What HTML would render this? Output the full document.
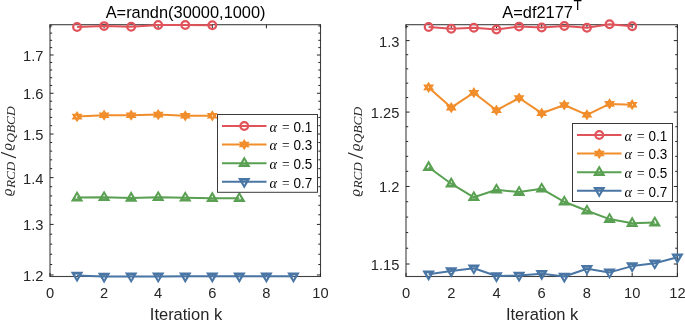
<!DOCTYPE html>
<html><head><meta charset="utf-8"><title>plot</title><style>
html,body{margin:0;padding:0;background:#fff;}
body{width:685px;height:320px;overflow:hidden;}
svg{display:block;}
text{font-family:"Liberation Sans",Arial,sans-serif;fill:#000;}
.tl{font-size:14.7px;fill:#262626;}
.tt{font-size:16.4px;fill:#000;}
.sup{font-size:13.6px;fill:#000;}
.xl{font-size:16.5px;fill:#262626;}
.lg{font-size:13.5px;fill:#000;}
.eq{font-family:"Liberation Serif",serif;}
.al{font-family:"Liberation Serif",serif;font-style:italic;font-size:14.2px;}
.yr{font-family:"Liberation Serif",serif;font-style:italic;font-size:14.5px;fill:#262626;}
.ys{font-family:"Liberation Serif",serif;font-style:italic;font-size:12.2px;fill:#262626;}
.ysl{font-family:"Liberation Serif",serif;font-size:24px;fill:#262626;}
</style></head><body>
<svg width="685" height="320" viewBox="0 0 685 320">
<rect width="100%" height="100%" fill="#fff"/>
<rect x="50.0" y="24.7" width="270.5" height="251.8" fill="none" stroke="#404040" stroke-width="1.1"/>
<path d="M50.0,274.95h3.6M320.5,274.95h-3.6M50.0,224.41h3.6M320.5,224.41h-3.6M50.0,177.61h3.6M320.5,177.61h-3.6M50.0,134.04h3.6M320.5,134.04h-3.6M50.0,93.28h3.6M320.5,93.28h-3.6M50.0,55h3.6M320.5,55h-3.6M50.0,264.52h2.2M320.5,264.52h-2.2M50.0,254.25h2.2M320.5,254.25h-2.2M50.0,244.14h2.2M320.5,244.14h-2.2M50.0,234.2h2.2M320.5,234.2h-2.2M50.0,214.77h2.2M320.5,214.77h-2.2M50.0,205.27h2.2M320.5,205.27h-2.2M50.0,195.91h2.2M320.5,195.91h-2.2M50.0,186.69h2.2M320.5,186.69h-2.2M50.0,168.65h2.2M320.5,168.65h-2.2M50.0,159.82h2.2M320.5,159.82h-2.2M50.0,151.11h2.2M320.5,151.11h-2.2M50.0,142.52h2.2M320.5,142.52h-2.2M50.0,125.67h2.2M320.5,125.67h-2.2M50.0,117.42h2.2M320.5,117.42h-2.2M50.0,109.27h2.2M320.5,109.27h-2.2M50.0,101.23h2.2M320.5,101.23h-2.2M50.0,85.44h2.2M320.5,85.44h-2.2M50.0,77.69h2.2M320.5,77.69h-2.2M50.0,70.03h2.2M320.5,70.03h-2.2M50.0,62.47h2.2M320.5,62.47h-2.2M50.0,47.61h2.2M320.5,47.61h-2.2M50.0,40.31h2.2M320.5,40.31h-2.2M50.0,33.09h2.2M320.5,33.09h-2.2M50.0,25.96h2.2M320.5,25.96h-2.2M50,276.5v-3.6M50,24.7v3.6M104.1,276.5v-3.6M104.1,24.7v3.6M158.2,276.5v-3.6M158.2,24.7v3.6M212.3,276.5v-3.6M212.3,24.7v3.6M266.4,276.5v-3.6M266.4,24.7v3.6M320.5,276.5v-3.6M320.5,24.7v3.6" stroke="#262626" stroke-width="1" fill="none"/>
<rect x="406.0" y="24.7" width="271.4" height="251.8" fill="none" stroke="#404040" stroke-width="1.1"/>
<path d="M406.0,264h3.6M677.4,264h-3.6M406.0,186.46h3.6M677.4,186.46h-3.6M406.0,112.08h3.6M677.4,112.08h-3.6M406.0,40.62h3.6M677.4,40.62h-3.6M406.0,248.23h2.2M677.4,248.23h-2.2M406.0,232.59h2.2M677.4,232.59h-2.2M406.0,217.08h2.2M677.4,217.08h-2.2M406.0,201.71h2.2M677.4,201.71h-2.2M406.0,171.34h2.2M677.4,171.34h-2.2M406.0,156.34h2.2M677.4,156.34h-2.2M406.0,141.47h2.2M677.4,141.47h-2.2M406.0,126.72h2.2M677.4,126.72h-2.2M406.0,97.56h2.2M677.4,97.56h-2.2M406.0,83.16h2.2M677.4,83.16h-2.2M406.0,68.87h2.2M677.4,68.87h-2.2M406.0,54.69h2.2M677.4,54.69h-2.2M406.0,26.66h2.2M677.4,26.66h-2.2M406,276.5v-3.6M406,24.7v3.6M451.23,276.5v-3.6M451.23,24.7v3.6M496.47,276.5v-3.6M496.47,24.7v3.6M541.7,276.5v-3.6M541.7,24.7v3.6M586.93,276.5v-3.6M586.93,24.7v3.6M632.17,276.5v-3.6M632.17,24.7v3.6M677.4,276.5v-3.6M677.4,24.7v3.6" stroke="#262626" stroke-width="1" fill="none"/>
<path d="M77.05,27 L104.1,26.1 L131.15,26.7 L158.2,24.9 L185.25,24.9 L212.3,25.3" fill="none" stroke="#E0535A" stroke-width="2.0" stroke-linejoin="round"/>
<circle cx="77.05" cy="27" r="3.85" fill="none" stroke="#E0535A" stroke-width="2.25"/>
<circle cx="104.1" cy="26.1" r="3.85" fill="none" stroke="#E0535A" stroke-width="2.25"/>
<circle cx="131.15" cy="26.7" r="3.85" fill="none" stroke="#E0535A" stroke-width="2.25"/>
<circle cx="158.2" cy="24.9" r="3.85" fill="none" stroke="#E0535A" stroke-width="2.25"/>
<circle cx="185.25" cy="24.9" r="3.85" fill="none" stroke="#E0535A" stroke-width="2.25"/>
<circle cx="212.3" cy="25.3" r="3.85" fill="none" stroke="#E0535A" stroke-width="2.25"/>
<path d="M77.05,116.6 L104.1,115.2 L131.15,115.2 L158.2,114.6 L185.25,115.8 L212.3,115.8" fill="none" stroke="#F18D2A" stroke-width="2.0" stroke-linejoin="round"/>
<path d="M77.05,111 L78.87,113.79 L82.48,113.8 L80.69,116.6 L82.48,119.4 L78.87,119.41 L77.05,122.2 L75.23,119.41 L71.62,119.4 L73.41,116.6 L71.62,113.8 L75.23,113.79 Z M77.83,117.05 L77.05,117.5 L76.27,117.05 L76.27,116.15 L77.05,115.7 L77.83,116.15 Z" fill="#F18D2A" fill-rule="evenodd"/>
<path d="M104.1,109.6 L105.92,112.39 L109.53,112.4 L107.74,115.2 L109.53,118 L105.92,118.01 L104.1,120.8 L102.28,118.01 L98.67,118 L100.46,115.2 L98.67,112.4 L102.28,112.39 Z M104.88,115.65 L104.1,116.1 L103.32,115.65 L103.32,114.75 L104.1,114.3 L104.88,114.75 Z" fill="#F18D2A" fill-rule="evenodd"/>
<path d="M131.15,109.6 L132.97,112.39 L136.58,112.4 L134.79,115.2 L136.58,118 L132.97,118.01 L131.15,120.8 L129.33,118.01 L125.72,118 L127.51,115.2 L125.72,112.4 L129.33,112.39 Z M131.93,115.65 L131.15,116.1 L130.37,115.65 L130.37,114.75 L131.15,114.3 L131.93,114.75 Z" fill="#F18D2A" fill-rule="evenodd"/>
<path d="M158.2,109 L160.02,111.79 L163.63,111.8 L161.84,114.6 L163.63,117.4 L160.02,117.41 L158.2,120.2 L156.38,117.41 L152.77,117.4 L154.56,114.6 L152.77,111.8 L156.38,111.79 Z M158.98,115.05 L158.2,115.5 L157.42,115.05 L157.42,114.15 L158.2,113.7 L158.98,114.15 Z" fill="#F18D2A" fill-rule="evenodd"/>
<path d="M185.25,110.2 L187.07,112.99 L190.68,113 L188.89,115.8 L190.68,118.6 L187.07,118.61 L185.25,121.4 L183.43,118.61 L179.82,118.6 L181.61,115.8 L179.82,113 L183.43,112.99 Z M186.03,116.25 L185.25,116.7 L184.47,116.25 L184.47,115.35 L185.25,114.9 L186.03,115.35 Z" fill="#F18D2A" fill-rule="evenodd"/>
<path d="M212.3,110.2 L214.12,112.99 L217.73,113 L215.94,115.8 L217.73,118.6 L214.12,118.61 L212.3,121.4 L210.48,118.61 L206.87,118.6 L208.66,115.8 L206.87,113 L210.48,112.99 Z M213.08,116.25 L212.3,116.7 L211.52,116.25 L211.52,115.35 L212.3,114.9 L213.08,115.35 Z" fill="#F18D2A" fill-rule="evenodd"/>
<path d="M77.05,197.6 L104.1,197.3 L131.15,197.9 L158.2,197.3 L185.25,197.8 L212.3,198.2 L239.35,198.3" fill="none" stroke="#5AA052" stroke-width="2.0" stroke-linejoin="round"/>
<path d="M77.05,190.7 L83.35,201.4 L70.75,201.4 Z M77.05,194.6 L78.9,198.6 L75.2,198.6 Z" fill="#5AA052" fill-rule="evenodd"/>
<path d="M104.1,190.4 L110.4,201.1 L97.8,201.1 Z M104.1,194.3 L105.95,198.3 L102.25,198.3 Z" fill="#5AA052" fill-rule="evenodd"/>
<path d="M131.15,191 L137.45,201.7 L124.85,201.7 Z M131.15,194.9 L133,198.9 L129.3,198.9 Z" fill="#5AA052" fill-rule="evenodd"/>
<path d="M158.2,190.4 L164.5,201.1 L151.9,201.1 Z M158.2,194.3 L160.05,198.3 L156.35,198.3 Z" fill="#5AA052" fill-rule="evenodd"/>
<path d="M185.25,190.9 L191.55,201.6 L178.95,201.6 Z M185.25,194.8 L187.1,198.8 L183.4,198.8 Z" fill="#5AA052" fill-rule="evenodd"/>
<path d="M212.3,191.3 L218.6,202 L206,202 Z M212.3,195.2 L214.15,199.2 L210.45,199.2 Z" fill="#5AA052" fill-rule="evenodd"/>
<path d="M239.35,191.4 L245.65,202.1 L233.05,202.1 Z M239.35,195.3 L241.2,199.3 L237.5,199.3 Z" fill="#5AA052" fill-rule="evenodd"/>
<path d="M77.05,275.6 L104.1,276.5 L131.15,276.4 L158.2,276.4 L185.25,276.3 L212.3,276.3 L239.35,276.3 L266.4,276.3 L293.45,276.3" fill="none" stroke="#4A76A5" stroke-width="2.0" stroke-linejoin="round"/>
<path d="M77.05,282.5 L83.35,271.8 L70.75,271.8 Z M77.05,278.6 L78.9,274.6 L75.2,274.6 Z" fill="#4A76A5" fill-rule="evenodd"/>
<path d="M104.1,283.4 L110.4,272.7 L97.8,272.7 Z M104.1,279.5 L105.95,275.5 L102.25,275.5 Z" fill="#4A76A5" fill-rule="evenodd"/>
<path d="M131.15,283.3 L137.45,272.6 L124.85,272.6 Z M131.15,279.4 L133,275.4 L129.3,275.4 Z" fill="#4A76A5" fill-rule="evenodd"/>
<path d="M158.2,283.3 L164.5,272.6 L151.9,272.6 Z M158.2,279.4 L160.05,275.4 L156.35,275.4 Z" fill="#4A76A5" fill-rule="evenodd"/>
<path d="M185.25,283.2 L191.55,272.5 L178.95,272.5 Z M185.25,279.3 L187.1,275.3 L183.4,275.3 Z" fill="#4A76A5" fill-rule="evenodd"/>
<path d="M212.3,283.2 L218.6,272.5 L206,272.5 Z M212.3,279.3 L214.15,275.3 L210.45,275.3 Z" fill="#4A76A5" fill-rule="evenodd"/>
<path d="M239.35,283.2 L245.65,272.5 L233.05,272.5 Z M239.35,279.3 L241.2,275.3 L237.5,275.3 Z" fill="#4A76A5" fill-rule="evenodd"/>
<path d="M266.4,283.2 L272.7,272.5 L260.1,272.5 Z M266.4,279.3 L268.25,275.3 L264.55,275.3 Z" fill="#4A76A5" fill-rule="evenodd"/>
<path d="M293.45,283.2 L299.75,272.5 L287.15,272.5 Z M293.45,279.3 L295.3,275.3 L291.6,275.3 Z" fill="#4A76A5" fill-rule="evenodd"/>
<path d="M428.62,27 L451.23,28.7 L473.85,27.8 L496.47,29.5 L519.08,26.6 L541.7,27.5 L564.32,25.9 L586.93,27.8 L609.55,24.3 L632.17,26.2" fill="none" stroke="#E0535A" stroke-width="2.0" stroke-linejoin="round"/>
<circle cx="428.62" cy="27" r="3.85" fill="none" stroke="#E0535A" stroke-width="2.25"/>
<circle cx="451.23" cy="28.7" r="3.85" fill="none" stroke="#E0535A" stroke-width="2.25"/>
<circle cx="473.85" cy="27.8" r="3.85" fill="none" stroke="#E0535A" stroke-width="2.25"/>
<circle cx="496.47" cy="29.5" r="3.85" fill="none" stroke="#E0535A" stroke-width="2.25"/>
<circle cx="519.08" cy="26.6" r="3.85" fill="none" stroke="#E0535A" stroke-width="2.25"/>
<circle cx="541.7" cy="27.5" r="3.85" fill="none" stroke="#E0535A" stroke-width="2.25"/>
<circle cx="564.32" cy="25.9" r="3.85" fill="none" stroke="#E0535A" stroke-width="2.25"/>
<circle cx="586.93" cy="27.8" r="3.85" fill="none" stroke="#E0535A" stroke-width="2.25"/>
<circle cx="609.55" cy="24.3" r="3.85" fill="none" stroke="#E0535A" stroke-width="2.25"/>
<circle cx="632.17" cy="26.2" r="3.85" fill="none" stroke="#E0535A" stroke-width="2.25"/>
<path d="M428.62,87.4 L451.23,107.6 L473.85,92.7 L496.47,110.3 L519.08,98 L541.7,113.2 L564.32,105 L586.93,114.8 L609.55,103.9 L632.17,104.7" fill="none" stroke="#F18D2A" stroke-width="2.0" stroke-linejoin="round"/>
<path d="M428.62,81.8 L430.44,84.59 L434.05,84.6 L432.25,87.4 L434.05,90.2 L430.44,90.21 L428.62,93 L426.8,90.21 L423.18,90.2 L424.98,87.4 L423.18,84.6 L426.8,84.59 Z M429.4,87.85 L428.62,88.3 L427.84,87.85 L427.84,86.95 L428.62,86.5 L429.4,86.95 Z" fill="#F18D2A" fill-rule="evenodd"/>
<path d="M451.23,102 L453.05,104.79 L456.67,104.8 L454.87,107.6 L456.67,110.4 L453.05,110.41 L451.23,113.2 L449.41,110.41 L445.8,110.4 L447.6,107.6 L445.8,104.8 L449.41,104.79 Z M452.01,108.05 L451.23,108.5 L450.45,108.05 L450.45,107.15 L451.23,106.7 L452.01,107.15 Z" fill="#F18D2A" fill-rule="evenodd"/>
<path d="M473.85,87.1 L475.67,89.89 L479.28,89.9 L477.49,92.7 L479.28,95.5 L475.67,95.51 L473.85,98.3 L472.03,95.51 L468.42,95.5 L470.21,92.7 L468.42,89.9 L472.03,89.89 Z M474.63,93.15 L473.85,93.6 L473.07,93.15 L473.07,92.25 L473.85,91.8 L474.63,92.25 Z" fill="#F18D2A" fill-rule="evenodd"/>
<path d="M496.47,104.7 L498.29,107.49 L501.9,107.5 L500.1,110.3 L501.9,113.1 L498.29,113.11 L496.47,115.9 L494.65,113.11 L491.03,113.1 L492.83,110.3 L491.03,107.5 L494.65,107.49 Z M497.25,110.75 L496.47,111.2 L495.69,110.75 L495.69,109.85 L496.47,109.4 L497.25,109.85 Z" fill="#F18D2A" fill-rule="evenodd"/>
<path d="M519.08,92.4 L520.9,95.19 L524.52,95.2 L522.72,98 L524.52,100.8 L520.9,100.81 L519.08,103.6 L517.26,100.81 L513.65,100.8 L515.45,98 L513.65,95.2 L517.26,95.19 Z M519.86,98.45 L519.08,98.9 L518.3,98.45 L518.3,97.55 L519.08,97.1 L519.86,97.55 Z" fill="#F18D2A" fill-rule="evenodd"/>
<path d="M541.7,107.6 L543.52,110.39 L547.13,110.4 L545.34,113.2 L547.13,116 L543.52,116.01 L541.7,118.8 L539.88,116.01 L536.27,116 L538.06,113.2 L536.27,110.4 L539.88,110.39 Z M542.48,113.65 L541.7,114.1 L540.92,113.65 L540.92,112.75 L541.7,112.3 L542.48,112.75 Z" fill="#F18D2A" fill-rule="evenodd"/>
<path d="M564.32,99.4 L566.14,102.19 L569.75,102.2 L567.95,105 L569.75,107.8 L566.14,107.81 L564.32,110.6 L562.5,107.81 L558.88,107.8 L560.68,105 L558.88,102.2 L562.5,102.19 Z M565.1,105.45 L564.32,105.9 L563.54,105.45 L563.54,104.55 L564.32,104.1 L565.1,104.55 Z" fill="#F18D2A" fill-rule="evenodd"/>
<path d="M586.93,109.2 L588.75,111.99 L592.37,112 L590.57,114.8 L592.37,117.6 L588.75,117.61 L586.93,120.4 L585.11,117.61 L581.5,117.6 L583.3,114.8 L581.5,112 L585.11,111.99 Z M587.71,115.25 L586.93,115.7 L586.15,115.25 L586.15,114.35 L586.93,113.9 L587.71,114.35 Z" fill="#F18D2A" fill-rule="evenodd"/>
<path d="M609.55,98.3 L611.37,101.09 L614.98,101.1 L613.19,103.9 L614.98,106.7 L611.37,106.71 L609.55,109.5 L607.73,106.71 L604.12,106.7 L605.91,103.9 L604.12,101.1 L607.73,101.09 Z M610.33,104.35 L609.55,104.8 L608.77,104.35 L608.77,103.45 L609.55,103 L610.33,103.45 Z" fill="#F18D2A" fill-rule="evenodd"/>
<path d="M632.17,99.1 L633.99,101.89 L637.6,101.9 L635.8,104.7 L637.6,107.5 L633.99,107.51 L632.17,110.3 L630.35,107.51 L626.73,107.5 L628.53,104.7 L626.73,101.9 L630.35,101.89 Z M632.95,105.15 L632.17,105.6 L631.39,105.15 L631.39,104.25 L632.17,103.8 L632.95,104.25 Z" fill="#F18D2A" fill-rule="evenodd"/>
<path d="M428.62,167.2 L451.23,183.7 L473.85,197.3 L496.47,189.8 L519.08,192.1 L541.7,188.8 L564.32,201.8 L586.93,210.8 L609.55,219.1 L632.17,223.2 L654.78,222.6" fill="none" stroke="#5AA052" stroke-width="2.0" stroke-linejoin="round"/>
<path d="M428.62,160.3 L434.92,171 L422.32,171 Z M428.62,164.2 L430.47,168.2 L426.77,168.2 Z" fill="#5AA052" fill-rule="evenodd"/>
<path d="M451.23,176.8 L457.53,187.5 L444.93,187.5 Z M451.23,180.7 L453.08,184.7 L449.38,184.7 Z" fill="#5AA052" fill-rule="evenodd"/>
<path d="M473.85,190.4 L480.15,201.1 L467.55,201.1 Z M473.85,194.3 L475.7,198.3 L472,198.3 Z" fill="#5AA052" fill-rule="evenodd"/>
<path d="M496.47,182.9 L502.77,193.6 L490.17,193.6 Z M496.47,186.8 L498.32,190.8 L494.62,190.8 Z" fill="#5AA052" fill-rule="evenodd"/>
<path d="M519.08,185.2 L525.38,195.9 L512.78,195.9 Z M519.08,189.1 L520.93,193.1 L517.23,193.1 Z" fill="#5AA052" fill-rule="evenodd"/>
<path d="M541.7,181.9 L548,192.6 L535.4,192.6 Z M541.7,185.8 L543.55,189.8 L539.85,189.8 Z" fill="#5AA052" fill-rule="evenodd"/>
<path d="M564.32,194.9 L570.62,205.6 L558.02,205.6 Z M564.32,198.8 L566.17,202.8 L562.47,202.8 Z" fill="#5AA052" fill-rule="evenodd"/>
<path d="M586.93,203.9 L593.23,214.6 L580.63,214.6 Z M586.93,207.8 L588.78,211.8 L585.08,211.8 Z" fill="#5AA052" fill-rule="evenodd"/>
<path d="M609.55,212.2 L615.85,222.9 L603.25,222.9 Z M609.55,216.1 L611.4,220.1 L607.7,220.1 Z" fill="#5AA052" fill-rule="evenodd"/>
<path d="M632.17,216.3 L638.47,227 L625.87,227 Z M632.17,220.2 L634.02,224.2 L630.32,224.2 Z" fill="#5AA052" fill-rule="evenodd"/>
<path d="M654.78,215.7 L661.08,226.4 L648.48,226.4 Z M654.78,219.6 L656.63,223.6 L652.93,223.6 Z" fill="#5AA052" fill-rule="evenodd"/>
<path d="M428.62,274.3 L451.23,271 L473.85,268.2 L496.47,276 L519.08,275.5 L541.7,273.8 L564.32,276.5 L586.93,268.7 L609.55,272.4 L632.17,266.1 L654.78,263.2 L677.4,257.3" fill="none" stroke="#4A76A5" stroke-width="2.0" stroke-linejoin="round"/>
<path d="M428.62,281.2 L434.92,270.5 L422.32,270.5 Z M428.62,277.3 L430.47,273.3 L426.77,273.3 Z" fill="#4A76A5" fill-rule="evenodd"/>
<path d="M451.23,277.9 L457.53,267.2 L444.93,267.2 Z M451.23,274 L453.08,270 L449.38,270 Z" fill="#4A76A5" fill-rule="evenodd"/>
<path d="M473.85,275.1 L480.15,264.4 L467.55,264.4 Z M473.85,271.2 L475.7,267.2 L472,267.2 Z" fill="#4A76A5" fill-rule="evenodd"/>
<path d="M496.47,282.9 L502.77,272.2 L490.17,272.2 Z M496.47,279 L498.32,275 L494.62,275 Z" fill="#4A76A5" fill-rule="evenodd"/>
<path d="M519.08,282.4 L525.38,271.7 L512.78,271.7 Z M519.08,278.5 L520.93,274.5 L517.23,274.5 Z" fill="#4A76A5" fill-rule="evenodd"/>
<path d="M541.7,280.7 L548,270 L535.4,270 Z M541.7,276.8 L543.55,272.8 L539.85,272.8 Z" fill="#4A76A5" fill-rule="evenodd"/>
<path d="M564.32,283.4 L570.62,272.7 L558.02,272.7 Z M564.32,279.5 L566.17,275.5 L562.47,275.5 Z" fill="#4A76A5" fill-rule="evenodd"/>
<path d="M586.93,275.6 L593.23,264.9 L580.63,264.9 Z M586.93,271.7 L588.78,267.7 L585.08,267.7 Z" fill="#4A76A5" fill-rule="evenodd"/>
<path d="M609.55,279.3 L615.85,268.6 L603.25,268.6 Z M609.55,275.4 L611.4,271.4 L607.7,271.4 Z" fill="#4A76A5" fill-rule="evenodd"/>
<path d="M632.17,273 L638.47,262.3 L625.87,262.3 Z M632.17,269.1 L634.02,265.1 L630.32,265.1 Z" fill="#4A76A5" fill-rule="evenodd"/>
<path d="M654.78,270.1 L661.08,259.4 L648.48,259.4 Z M654.78,266.2 L656.63,262.2 L652.93,262.2 Z" fill="#4A76A5" fill-rule="evenodd"/>
<path d="M677.4,264.2 L683.7,253.5 L671.1,253.5 Z M677.4,260.3 L679.25,256.3 L675.55,256.3 Z" fill="#4A76A5" fill-rule="evenodd"/>
<rect x="217.5" y="114.5" width="100" height="77.8" fill="#fff" stroke="#3a3a3a" stroke-width="1"/>
<path d="M222,125.95H266.5" stroke="#E0535A" stroke-width="2.0"/>
<circle cx="244.25" cy="125.95" r="3.85" fill="none" stroke="#E0535A" stroke-width="2.25"/>
<text x="269.5" y="131.75" class="al">α</text>
<text transform="translate(282.1,131.75) scale(1,1.035)" class="lg"><tspan class="eq">=</tspan> 0.1</text>
<path d="M222,144.55H266.5" stroke="#F18D2A" stroke-width="2.0"/>
<path d="M244.25,138.95 L246.07,141.74 L249.68,141.75 L247.89,144.55 L249.68,147.35 L246.07,147.36 L244.25,150.15 L242.43,147.36 L238.82,147.35 L240.61,144.55 L238.82,141.75 L242.43,141.74 Z M245.03,145 L244.25,145.45 L243.47,145 L243.47,144.1 L244.25,143.65 L245.03,144.1 Z" fill="#F18D2A" fill-rule="evenodd"/>
<text x="269.5" y="150.35" class="al">α</text>
<text transform="translate(282.1,150.35) scale(1,1.035)" class="lg"><tspan class="eq">=</tspan> 0.3</text>
<path d="M222,163.15H266.5" stroke="#5AA052" stroke-width="2.0"/>
<path d="M244.25,156.25 L250.55,166.95 L237.95,166.95 Z M244.25,160.15 L246.1,164.15 L242.4,164.15 Z" fill="#5AA052" fill-rule="evenodd"/>
<text x="269.5" y="168.95" class="al">α</text>
<text transform="translate(282.1,168.95) scale(1,1.035)" class="lg"><tspan class="eq">=</tspan> 0.5</text>
<path d="M222,181.75H266.5" stroke="#4A76A5" stroke-width="2.0"/>
<path d="M244.25,188.65 L250.55,177.95 L237.95,177.95 Z M244.25,184.75 L246.1,180.75 L242.4,180.75 Z" fill="#4A76A5" fill-rule="evenodd"/>
<text x="269.5" y="187.55" class="al">α</text>
<text transform="translate(282.1,187.55) scale(1,1.035)" class="lg"><tspan class="eq">=</tspan> 0.7</text>
<rect x="572.5" y="123.5" width="100" height="78" fill="#fff" stroke="#3a3a3a" stroke-width="1"/>
<path d="M577,134.95H621.5" stroke="#E0535A" stroke-width="2.0"/>
<circle cx="599.25" cy="134.95" r="3.85" fill="none" stroke="#E0535A" stroke-width="2.25"/>
<text x="624.5" y="140.75" class="al">α</text>
<text transform="translate(637.1,140.75) scale(1,1.035)" class="lg"><tspan class="eq">=</tspan> 0.1</text>
<path d="M577,153.55H621.5" stroke="#F18D2A" stroke-width="2.0"/>
<path d="M599.25,147.95 L601.07,150.74 L604.68,150.75 L602.89,153.55 L604.68,156.35 L601.07,156.36 L599.25,159.15 L597.43,156.36 L593.82,156.35 L595.61,153.55 L593.82,150.75 L597.43,150.74 Z M600.03,154 L599.25,154.45 L598.47,154 L598.47,153.1 L599.25,152.65 L600.03,153.1 Z" fill="#F18D2A" fill-rule="evenodd"/>
<text x="624.5" y="159.35" class="al">α</text>
<text transform="translate(637.1,159.35) scale(1,1.035)" class="lg"><tspan class="eq">=</tspan> 0.3</text>
<path d="M577,172.15H621.5" stroke="#5AA052" stroke-width="2.0"/>
<path d="M599.25,165.25 L605.55,175.95 L592.95,175.95 Z M599.25,169.15 L601.1,173.15 L597.4,173.15 Z" fill="#5AA052" fill-rule="evenodd"/>
<text x="624.5" y="177.95" class="al">α</text>
<text transform="translate(637.1,177.95) scale(1,1.035)" class="lg"><tspan class="eq">=</tspan> 0.5</text>
<path d="M577,190.75H621.5" stroke="#4A76A5" stroke-width="2.0"/>
<path d="M599.25,197.65 L605.55,186.95 L592.95,186.95 Z M599.25,193.75 L601.1,189.75 L597.4,189.75 Z" fill="#4A76A5" fill-rule="evenodd"/>
<text x="624.5" y="196.55" class="al">α</text>
<text transform="translate(637.1,196.55) scale(1,1.035)" class="lg"><tspan class="eq">=</tspan> 0.7</text>
<text transform="translate(43.4,280.85) scale(1,1.035)" class="tl" text-anchor="end">1.2</text>
<text transform="translate(43.4,230.31) scale(1,1.035)" class="tl" text-anchor="end">1.3</text>
<text transform="translate(43.4,183.51) scale(1,1.035)" class="tl" text-anchor="end">1.4</text>
<text transform="translate(43.4,139.94) scale(1,1.035)" class="tl" text-anchor="end">1.5</text>
<text transform="translate(43.4,99.18) scale(1,1.035)" class="tl" text-anchor="end">1.6</text>
<text transform="translate(43.4,60.9) scale(1,1.035)" class="tl" text-anchor="end">1.7</text>
<text transform="translate(50,297.6) scale(1,1.035)" class="tl" text-anchor="middle">0</text>
<text transform="translate(104.1,297.6) scale(1,1.035)" class="tl" text-anchor="middle">2</text>
<text transform="translate(158.2,297.6) scale(1,1.035)" class="tl" text-anchor="middle">4</text>
<text transform="translate(212.3,297.6) scale(1,1.035)" class="tl" text-anchor="middle">6</text>
<text transform="translate(266.4,297.6) scale(1,1.035)" class="tl" text-anchor="middle">8</text>
<text transform="translate(320.5,297.6) scale(1,1.035)" class="tl" text-anchor="middle">10</text>
<text transform="translate(399.4,269.9) scale(1,1.035)" class="tl" text-anchor="end">1.15</text>
<text transform="translate(399.4,192.36) scale(1,1.035)" class="tl" text-anchor="end">1.2</text>
<text transform="translate(399.4,117.98) scale(1,1.035)" class="tl" text-anchor="end">1.25</text>
<text transform="translate(399.4,46.52) scale(1,1.035)" class="tl" text-anchor="end">1.3</text>
<text transform="translate(406,297.6) scale(1,1.035)" class="tl" text-anchor="middle">0</text>
<text transform="translate(451.23,297.6) scale(1,1.035)" class="tl" text-anchor="middle">2</text>
<text transform="translate(496.47,297.6) scale(1,1.035)" class="tl" text-anchor="middle">4</text>
<text transform="translate(541.7,297.6) scale(1,1.035)" class="tl" text-anchor="middle">6</text>
<text transform="translate(586.93,297.6) scale(1,1.035)" class="tl" text-anchor="middle">8</text>
<text transform="translate(632.17,297.6) scale(1,1.035)" class="tl" text-anchor="middle">10</text>
<text transform="translate(677.4,297.6) scale(1,1.035)" class="tl" text-anchor="middle">12</text>
<text transform="translate(185.6,17.9) scale(1,1.035)" class="tt" text-anchor="middle">A=randn(30000,1000)</text>
<text transform="translate(537.6,17.7) scale(1,1.035)" class="tt" text-anchor="middle">A=df2177</text>
<text transform="translate(577.6,9.5) scale(1,1.035)" class="sup" text-anchor="middle">T</text>
<text transform="translate(186,319.6) scale(1,1.035)" class="xl" text-anchor="middle">Iteration k</text>
<text transform="translate(542.1,319.6) scale(1,1.035)" class="xl" text-anchor="middle">Iteration k</text>
<text transform="translate(12.3,196) rotate(-90)" class="yr">ϱ</text>
<text transform="translate(14.7,188) rotate(-90)" class="ys" textLength="26.3" lengthAdjust="spacingAndGlyphs">RCD</text>
<text transform="translate(15.9,158.5) rotate(-90)" class="ysl">/</text>
<text transform="translate(12.3,150.6) rotate(-90)" class="yr">ϱ</text>
<text transform="translate(14.7,142.8) rotate(-90)" class="ys" textLength="36.6" lengthAdjust="spacingAndGlyphs">QBCD</text>
<text transform="translate(359.8,196.5) rotate(-90)" class="yr">ϱ</text>
<text transform="translate(362.2,188.5) rotate(-90)" class="ys" textLength="26.3" lengthAdjust="spacingAndGlyphs">RCD</text>
<text transform="translate(363.4,159) rotate(-90)" class="ysl">/</text>
<text transform="translate(359.8,151.1) rotate(-90)" class="yr">ϱ</text>
<text transform="translate(362.2,143.3) rotate(-90)" class="ys" textLength="36.6" lengthAdjust="spacingAndGlyphs">QBCD</text>
</svg>
</body></html>
